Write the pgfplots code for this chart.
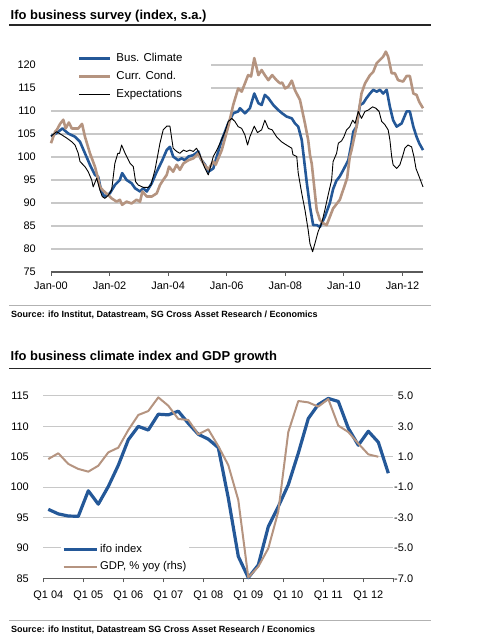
\documentclass[border=0pt]{standalone}
\usepackage{pgfplots}
\pgfplotsset{compat=1.18}
\usepackage{fontspec}
\setmainfont{Liberation Sans}
\definecolor{ifoblue}{RGB}{36,88,152}
\definecolor{ifotan}{RGB}{181,148,128}
\definecolor{gridgray}{RGB}{200,200,200}
\definecolor{axgray}{RGB}{90,90,90}
\begin{document}
\begin{tikzpicture}[x=1bp,y=1bp]
\useasboundingbox (0,0) rectangle (481,635);
% ---------- titles / rules ----------
\node[anchor=base west, inner sep=0pt] at (10.5,615.7) {\fontsize{13}{15}\selectfont\bfseries Ifo business survey (index, s.a.)};
\draw[line width=1.5bp, black!85] (9,610) -- (431,610);
\draw[line width=0.8bp, gray!60] (9,330) -- (431,330);
\node[anchor=base west, inner sep=0pt] at (11,317) {\fontsize{9.05}{10}\selectfont\bfseries Source: ifo Institut, Datastream, SG Cross Asset Research / Economics};
\node[anchor=base west, inner sep=0pt] at (10.5,274.3) {\fontsize{13}{15}\selectfont\bfseries Ifo business climate index and GDP growth};
\draw[line width=1.5bp, black!85] (9,266.7) -- (431,266.7);
\draw[line width=0.8bp, gray!60] (9,14.3) -- (431,14.3);
\node[anchor=base west, inner sep=0pt] at (11,2.3) {\fontsize{9.05}{10}\selectfont\bfseries Source: ifo Institut, Datastream SG Cross Asset Research / Economics};
% ---------- chart 1 ----------
\begin{axis}[
  at={(51bp,363bp)}, anchor=south west,
  scale only axis, width=372bp, height=230bp,
  xmin=2000, xmax=2012.7, ymin=75, ymax=125,
  clip=false,
  axis x line*=bottom, axis y line*=left,
  y axis line style={draw=none},
  x axis line style={draw=axgray, line width=1.2bp, -},
  ytick={75,80,...,120},
  xtick={2000,2002,...,2012},
  xticklabels={Jan-00,Jan-02,Jan-04,Jan-06,Jan-08,Jan-10,Jan-12},
  ymajorgrids, grid style={draw=gridgray, line width=1.3bp},
  ytick style={draw=none},
  xtick style={draw=axgray, line width=1bp},
  tick align=outside, major tick length=4bp,
  /pgf/number format/assume math mode=true,
  tick label style={font=\fontsize{11}{13}\selectfont},
  yticklabel style={anchor=east, inner sep=0pt, xshift=-11bp},
  xticklabel style={anchor=base, inner sep=0pt, yshift=-14bp},
  legend cell align=left,
  legend image code/.code={\draw[#1] (0bp,0bp) -- (31bp,0bp);},
  legend style={at={(axis description cs:0,0.963)}, anchor=north west,
    fill=white, draw=none, font=\fontsize{11.5}{13}\selectfont,
    inner xsep=26.7bp, inner ysep=1bp, row sep=4bp,
    /tikz/every odd column/.append style={column sep=3bp}},
]
\addplot[ifoblue, line width=2.6bp, line join=round] coordinates {
(2000.00,104.5) (2000.19,105.2) (2000.39,106.2) (2000.59,105.1) (2000.82,104.4) (2000.99,103.3) (2001.16,100.8) (2001.33,98.3) (2001.50,96.1) (2001.61,95.7) (2001.71,92.8) (2001.82,91.4) (2002.01,92.1) (2002.18,93.9) (2002.35,95.0) (2002.43,96.5) (2002.58,95.0) (2002.75,94.3) (2002.87,93.2) (2003.04,92.5) (2003.15,93.2) (2003.27,92.5) (2003.44,94.3) (2003.61,96.8) (2003.78,99.0) (2003.95,101.5) (2004.06,102.2) (2004.17,100.1) (2004.34,99.3) (2004.46,99.7) (2004.57,99.3) (2004.69,100.1) (2004.86,100.4) (2005.03,101.2) (2005.12,99.5) (2005.26,98.3) (2005.37,96.8) (2005.54,97.5) (2005.66,100.1) (2005.83,103.7) (2006.05,107.3) (2006.22,109.5) (2006.39,109.9) (2006.45,110.6) (2006.62,109.5) (2006.79,110.6) (2006.94,113.8) (2007.08,111.7) (2007.19,111.3) (2007.30,113.5) (2007.42,112.8) (2007.59,111.3) (2007.76,110.2) (2007.89,109.5) (2008.04,108.8) (2008.22,108.4) (2008.33,107.3) (2008.44,106.6) (2008.56,103.7) (2008.62,100.5) (2008.73,94.5) (2008.84,89.2) (2008.95,85.2) (2009.07,85.2) (2009.18,84.8) (2009.35,87.0) (2009.52,90.0) (2009.63,93.0) (2009.74,94.8) (2009.86,95.8) (2009.98,97.2) (2010.15,99.3) (2010.26,103.0) (2010.32,105.5) (2010.43,106.6) (2010.55,111.3) (2010.66,111.7) (2010.77,112.8) (2010.89,113.8) (2011.00,114.6) (2011.12,114.2) (2011.23,114.6) (2011.34,113.8) (2011.46,114.6) (2011.57,110.9) (2011.68,108.0) (2011.80,106.6) (2011.97,107.3) (2012.14,109.9) (2012.25,109.9) (2012.37,106.6) (2012.48,104.4) (2012.57,103.0) (2012.70,101.5)
};
\addlegendentry{Bus. Climate}
\addplot[ifotan, line width=2.6bp, line join=round] coordinates {
(2000.00,103.0) (2000.14,105.5) (2000.20,105.9) (2000.31,107.2) (2000.42,108.1) (2000.50,106.2) (2000.61,107.5) (2000.71,106.2) (2000.93,106.2) (2001.06,107.2) (2001.16,104.4) (2001.33,100.8) (2001.50,97.9) (2001.59,95.7) (2001.67,93.5) (2001.78,92.7) (2001.96,91.7) (2002.07,91.0) (2002.24,90.3) (2002.35,90.7) (2002.43,89.6) (2002.58,90.3) (2002.75,89.9) (2002.92,90.7) (2003.04,90.3) (2003.12,92.5) (2003.27,91.4) (2003.44,91.4) (2003.61,92.1) (2003.72,93.9) (2003.83,95.0) (2003.95,96.1) (2004.03,97.9) (2004.17,96.8) (2004.29,98.3) (2004.40,97.2) (2004.52,98.6) (2004.69,99.3) (2004.86,99.7) (2005.03,100.8) (2005.20,98.6) (2005.37,97.3) (2005.54,99.0) (2005.62,98.3) (2005.83,101.5) (2006.05,106.6) (2006.22,111.3) (2006.39,114.9) (2006.51,114.2) (2006.62,116.0) (2006.73,117.8) (2006.83,117.5) (2006.94,121.5) (2007.08,117.8) (2007.19,118.9) (2007.30,117.8) (2007.42,116.7) (2007.55,117.8) (2007.70,116.7) (2007.82,116.0) (2007.89,116.2) (2007.99,114.9) (2008.10,115.3) (2008.22,116.6) (2008.33,114.5) (2008.50,112.4) (2008.67,107.3) (2008.78,103.7) (2008.84,100.5) (2008.90,98.6) (2009.01,92.1) (2009.07,88.5) (2009.18,86.3) (2009.29,85.6) (2009.41,85.2) (2009.52,87.0) (2009.63,88.8) (2009.86,90.7) (2010.03,93.9) (2010.11,95.4) (2010.20,100.1) (2010.26,101.5) (2010.43,106.6) (2010.60,113.8) (2010.72,116.0) (2010.89,117.8) (2011.00,118.5) (2011.12,120.4) (2011.23,121.1) (2011.34,121.8) (2011.43,122.9) (2011.51,121.8) (2011.63,118.2) (2011.74,118.2) (2011.85,116.7) (2012.02,116.4) (2012.14,117.6) (2012.25,117.6) (2012.37,113.8) (2012.48,113.5) (2012.57,112.0) (2012.70,110.6)
};
\addlegendentry{Curr. Cond.}
\addplot[black, line width=0.9bp, line join=round] coordinates {
(2000.00,104.5) (2000.19,105.5) (2000.37,104.8) (2000.54,104.1) (2000.71,103.3) (2000.82,102.6) (2000.93,100.8) (2000.99,99.0) (2001.16,97.9) (2001.27,96.8) (2001.39,95.0) (2001.44,93.5) (2001.56,95.4) (2001.67,92.8) (2001.75,91.4) (2001.84,91.0) (2001.96,91.7) (2002.07,92.8) (2002.18,98.6) (2002.28,100.8) (2002.34,100.8) (2002.41,102.6) (2002.53,100.8) (2002.70,98.6) (2002.81,97.9) (2002.89,94.6) (2002.98,93.9) (2003.15,93.4) (2003.32,93.4) (2003.41,93.9) (2003.55,97.2) (2003.72,103.0) (2003.83,105.9) (2003.95,106.7) (2004.06,106.7) (2004.17,101.9) (2004.29,101.2) (2004.40,100.8) (2004.52,101.5) (2004.63,101.2) (2004.74,101.5) (2004.86,101.2) (2004.97,101.9) (2005.09,100.4) (2005.23,97.9) (2005.37,96.1) (2005.54,100.1) (2005.66,101.5) (2005.77,103.0) (2005.94,105.5) (2006.05,107.7) (2006.17,108.4) (2006.28,107.7) (2006.39,106.6) (2006.51,106.2) (2006.62,104.8) (2006.71,102.6) (2006.79,104.4) (2006.94,106.7) (2007.05,105.3) (2007.19,105.9) (2007.30,108.0) (2007.42,106.2) (2007.55,105.9) (2007.70,104.4) (2007.87,103.3) (2008.04,102.6) (2008.22,101.9) (2008.26,100.5) (2008.39,100.1) (2008.44,96.5) (2008.56,92.1) (2008.67,88.5) (2008.78,84.1) (2008.84,81.2) (2008.93,79.4) (2009.01,81.2) (2009.12,83.8) (2009.24,85.6) (2009.35,88.5) (2009.46,91.7) (2009.58,95.0) (2009.63,99.0) (2009.75,100.8) (2009.81,103.0) (2009.92,103.5) (2010.00,104.4) (2010.09,105.9) (2010.20,106.6) (2010.30,108.0) (2010.38,107.3) (2010.49,109.9) (2010.60,108.4) (2010.72,109.9) (2010.83,110.2) (2010.98,110.9) (2011.09,110.6) (2011.20,109.9) (2011.29,107.7) (2011.40,107.0) (2011.51,105.9) (2011.57,103.7) (2011.63,100.1) (2011.68,98.3) (2011.80,97.5) (2011.91,98.3) (2012.00,100.1) (2012.08,101.9) (2012.19,102.6) (2012.31,102.2) (2012.39,100.1) (2012.46,97.5) (2012.57,95.7) (2012.70,93.5)
};
\addlegendentry{Expectations}
\end{axis}
% ---------- chart 2, left axis ----------
\begin{axis}[
  at={(43.3bp,56.7bp)}, anchor=south west,
  scale only axis, width=350bp, height=182.3bp,
  xmin=-0.5, xmax=34.5, ymin=85, ymax=115,
  clip=false,
  axis x line*=bottom, axis y line*=left,
  y axis line style={draw=none},
  x axis line style={draw=axgray, line width=1.2bp, -},
  ytick={85,90,...,115},
  xtick={0,4,...,32},
  xticklabels={Q1 04,Q1 05,Q1 06,Q1 07,Q1 08,Q1 09,Q1 10,Q1 11,Q1 12},
  minor xtick={-0.5,3.5,7.5,11.5,15.5,19.5,23.5,27.5,31.5,34.5},
  ymajorgrids, grid style={draw=gridgray, line width=1bp},
  ytick style={draw=none},
  major x tick style={draw=none},
  minor x tick style={draw=axgray, line width=1bp},
  tick align=outside, minor tick length=4bp, major tick length=4bp,
  /pgf/number format/assume math mode=true,
  tick label style={font=\fontsize{11}{13}\selectfont},
  yticklabel style={anchor=east, inner sep=0pt, xshift=-10.3bp},
  xticklabel style={anchor=base, inner sep=0pt, yshift=-16bp},
]
\addplot[ifoblue, line width=3.2bp, line join=round] coordinates {
(0,96.35) (1,95.6) (2,95.25) (3,95.2) (4,99.4) (5,97.2) (6,100.1) (7,103.6) (8,107.8) (9,110.0) (10,109.4) (11,112.0) (12,111.9) (13,112.5) (14,110.5) (15,108.7) (16,107.9) (17,106.5) (18,98.2) (19,88.6) (20,85.1) (21,87.2) (22,93.5) (23,96.8) (24,100.4) (25,105.6) (26,111.3) (27,113.6) (28,114.6) (29,114.1) (30,109.7) (31,106.9) (32,109.2) (33,107.4) (34,102.3)
};
\end{axis}
% ---------- chart 2, right axis ----------
\begin{axis}[
  at={(43.3bp,56.7bp)}, anchor=south west,
  scale only axis, width=350bp, height=182.3bp,
  xmin=-0.5, xmax=34.5, ymin=-7, ymax=5,
  clip=false,
  hide x axis,
  axis y line*=right,
  y axis line style={draw=none},
  ytick={-7,-5,...,5},
  ytick style={draw=none},
  /pgf/number format/.cd, fixed, fixed zerofill, precision=1, assume math mode=true,
  /pgfplots/.cd,
  tick label style={font=\fontsize{11}{13}\selectfont},
  yticklabel style={anchor=east, inner sep=0pt, xshift=20bp},
  legend cell align=left,
  legend image code/.code={\draw[#1] (0bp,0bp) -- (33bp,0bp);},
  legend style={at={(axis description cs:0.05,0.02)}, anchor=south west,
    fill=white, draw=none, font=\fontsize{11.3}{13}\selectfont,
    inner xsep=1bp, inner ysep=1bp, row sep=3.5bp},
]
\addlegendimage{ifoblue, line width=3.2bp}
\addlegendentry{ifo index}
\addplot[ifotan, line width=2bp, line join=round] coordinates {
(0,0.85) (1,1.23) (2,0.53) (3,0.2) (4,0.02) (5,0.41) (6,1.29) (7,1.6) (8,2.76) (9,3.75) (10,4.01) (11,4.91) (12,4.36) (13,3.49) (14,3.42) (15,2.48) (16,2.81) (17,1.7) (18,0.45) (19,-1.85) (20,-6.95) (21,-6.23) (22,-5.03) (23,-2.6) (24,2.63) (25,4.67) (26,4.58) (27,4.3) (28,4.8) (29,3.05) (30,2.63) (31,1.87) (32,1.16) (33,1.0)
};
\addlegendentry{GDP, \% yoy (rhs)}
\end{axis}
\end{tikzpicture}
\end{document}
